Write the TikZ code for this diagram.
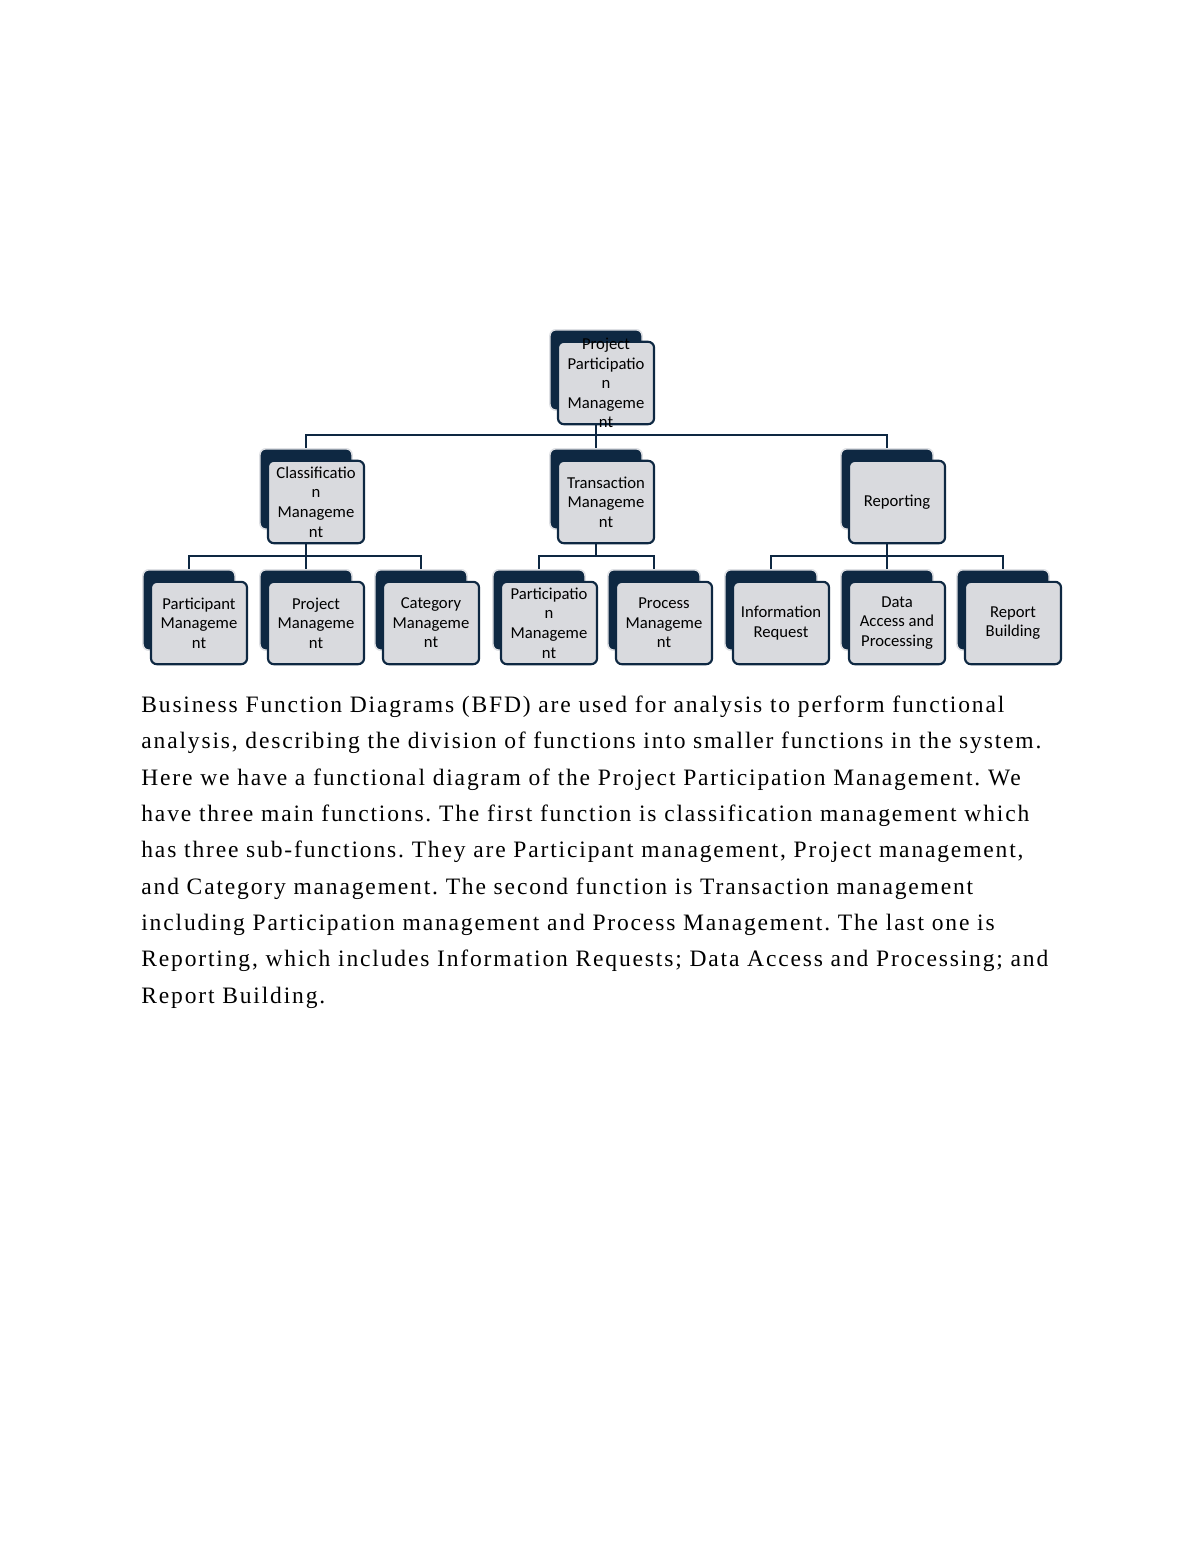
\documentclass[tikz,border=0pt]{standalone}
\usepackage{fontspec}
\setmainfont{Liberation Serif}[LetterSpace=7.8]
\newfontfamily\boxfont{Carlito}
\usetikzlibrary{backgrounds,calc}
\definecolor{bfdnavy}{RGB}{14,40,66}
\definecolor{bfdgray}{RGB}{217,218,222}
\definecolor{bfdglow}{RGB}{222,224,228}
\frenchspacing

\begin{document}
\begin{tikzpicture}[x=0.51pt,y=-0.51pt]
    % `backbox' is the dark box behind each function.
    % `func' is the grey function box in front, `functext' its text.
    % `link' is used for the tree lines.
    \tikzstyle{backbox} = [draw=bfdglow,fill=bfdnavy,line width=0.8pt,rounded corners=3pt,minimum width=47pt,minimum height=41pt,inner sep=0pt]
    \tikzstyle{func} = [draw=bfdnavy,fill=bfdgray,line width=1.1pt,rounded corners=3pt,minimum width=49pt,minimum height=42pt,inner sep=0pt]
    \tikzstyle{functext} = [align=center,inner sep=0pt,font=\boxfont\fontsize{8.5}{10}\selectfont]
    \tikzstyle{link} = [draw=bfdnavy,line width=1.2pt]
    \tikzstyle{para} = [anchor=base west,inner sep=0pt,font=\fontsize{12}{14}\selectfont]
    %
    \useasboundingbox (0,0) rectangle (1200,1553);
    %
    % Back boxes.
    \node[backbox] (ppmb) at (596,370) {};
    \node[backbox] (clsb) at (306,489) {};
    \node[backbox] (trnb) at (596,489) {};
    \node[backbox] (repb) at (887,489) {};
    \node[backbox] (parb) at (189,610) {};
    \node[backbox] (prjb) at (306,610) {};
    \node[backbox] (catb) at (421,610) {};
    \node[backbox] (ptcb) at (539,610) {};
    \node[backbox] (prob) at (654,610) {};
    \node[backbox] (infb) at (771,610) {};
    \node[backbox] (datb) at (887,610) {};
    \node[backbox] (bldb) at (1003,610) {};
    %
    % Function boxes.
    \node[func] (ppm) at ($(ppmb)+(10,13)$) {};
    \node[func] (cls) at ($(clsb)+(10,13)$) {};
    \node[func] (trn) at ($(trnb)+(10,13)$) {};
    \node[func] (rep) at ($(repb)+(10,13)$) {};
    \node[func] (par) at ($(parb)+(10,13)$) {};
    \node[func] (prj) at ($(prjb)+(10,13)$) {};
    \node[func] (cat) at ($(catb)+(10,13)$) {};
    \node[func] (ptc) at ($(ptcb)+(10,13)$) {};
    \node[func] (pro) at ($(prob)+(10,13)$) {};
    \node[func] (inf) at ($(infb)+(10,13)$) {};
    \node[func] (dat) at ($(datb)+(10,13)$) {};
    \node[func] (bld) at ($(bldb)+(10,13)$) {};
    %
    \node[functext] (ppm-t) at (ppm) {Project\\Participatio\\n\\Manageme\\nt};
    \node[functext] (cls-t) at (cls) {Classificatio\\n\\Manageme\\nt};
    \node[functext] (trn-t) at (trn) {Transaction\\Manageme\\nt};
    \node[functext] (rep-t) at (rep) {Reporting};
    \node[functext] (par-t) at (par) {Participant\\Manageme\\nt};
    \node[functext] (prj-t) at (prj) {Project\\Manageme\\nt};
    \node[functext] (cat-t) at (cat) {Category\\Manageme\\nt};
    \node[functext] (ptc-t) at (ptc) {Participatio\\n\\Manageme\\nt};
    \node[functext] (pro-t) at (pro) {Process\\Manageme\\nt};
    \node[functext] (inf-t) at (inf) {Information\\Request};
    \node[functext] (dat-t) at (dat) {Data\\Access and\\Processing};
    \node[functext] (bld-t) at (bld) {Report\\Building};
    %
    \begin{pgfonlayer}{background}
        % Draw tree lines.
        \draw[link] (ppmb.center) -- ++(0,65) -| (clsb.north);
        \draw[link] (ppmb.center) -- ++(0,65) -| (repb.north);
        \draw[link] (ppmb.center) -- (trnb.north);
        \draw[link] (clsb.center) -- ++(0,67) -| (parb.north);
        \draw[link] (clsb.center) -- ++(0,67) -| (catb.north);
        \draw[link] (clsb.center) -- (prjb.north);
        \draw[link] (trnb.center) -- ++(0,67) -| (ptcb.north);
        \draw[link] (trnb.center) -- ++(0,67) -| (prob.north);
        \draw[link] (repb.center) -- ++(0,67) -| (infb.north);
        \draw[link] (repb.center) -- ++(0,67) -| (bldb.north);
        \draw[link] (repb.center) -- (datb.north);
    \end{pgfonlayer}
    %
    % Text below the diagram.
    \node[para] (txt1) at (141,712) {Business Function Diagrams (BFD) are used for analysis to perform functional};
    \node[para] (txt2) at (141,748) {analysis, describing the division of functions into smaller functions in the system.};
    \node[para] (txt3) at (141,785) {Here we have a functional diagram of the Project Participation Management. We};
    \node[para] (txt4) at (141,821) {have three main functions. The first function is classification management which};
    \node[para] (txt5) at (141,857) {has three sub-functions. They are Participant management, Project management,};
    \node[para] (txt6) at (141,894) {and Category management. The second function is Transaction management};
    \node[para] (txt7) at (141,930) {including Participation management and Process Management. The last one is};
    \node[para] (txt8) at (141,966) {Reporting, which includes Information Requests; Data Access and Processing; and};
    \node[para] (txt9) at (141,1003) {Report Building.};
\end{tikzpicture}
\end{document}
